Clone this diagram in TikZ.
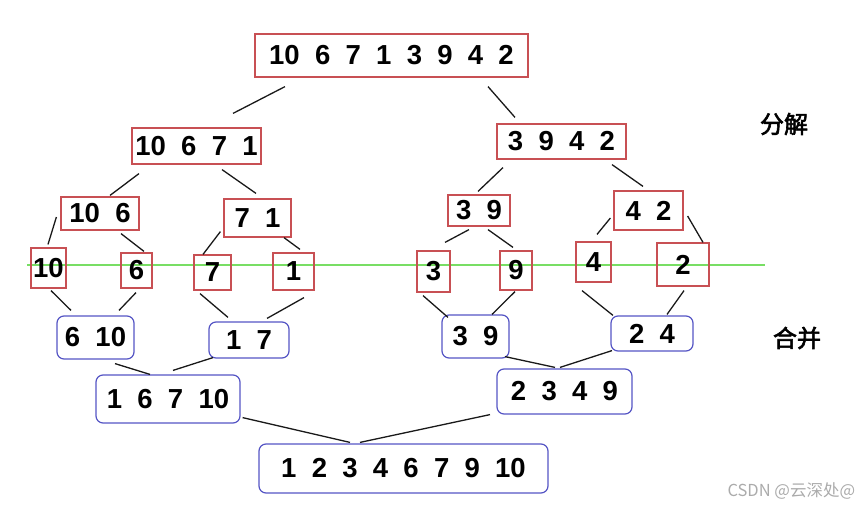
\documentclass[tikz,border=0pt]{standalone}
\usepackage{fontspec}
\setmainfont{Liberation Sans}[WordSpace=2]
\newfontfamily\cjk{Noto Sans CJK SC}[AutoFakeBold=2.5]
\usepackage{tikz}
\usetikzlibrary{positioning}
\definecolor{splitred}{RGB}{200,80,84}
\definecolor{mergeblue}{RGB}{84,84,196}
\definecolor{cutgreen}{RGB}{120,222,100}
\newcommand{\numfont}{\fontsize{27.5}{27.5}\selectfont\bfseries}

\begin{document}
\begin{tikzpicture}[
  x=1pt, y=-1pt,
  split/.style={draw=splitred, line width=1.2pt, inner sep=0pt, font=\numfont},
  merged/.style={draw=mergeblue, line width=1.2pt, rounded corners=7pt, inner sep=0pt, font=\numfont},
  boxsize/.style 2 args={minimum width=#1pt, minimum height=#2pt},
  link/.style={line width=1.3pt, black!90},
  stage/.style={font=\cjk\fontsize{24}{24}\selectfont\bfseries},
  watermark/.style={font=\cjk\fontsize{16.5}{16.5}\selectfont, text=black!33}
]
\useasboundingbox (0,0) rectangle (856,506);

% dividing line
\draw[cutgreen, line width=1.2pt] (27,265) -- (765,265);

% split
\node[split, boxsize={273}{43}] (s0) at (391.5,55.5) {10 6 7 1 3 9 4 2};
\node[split, boxsize={129}{36}] (a) at (196.5,146) {10 6 7 1};
\node[split, boxsize={129}{35}] (b) at (561.5,141.5) {3 9 4 2};
\node[split, boxsize={78}{33}] (aa) at (100,213.5) {10 6};
\node[split, boxsize={67}{38}] (ab) at (257.5,218) {7 1};
\node[split, boxsize={62}{31}] (ba) at (479,210.5) {3 9};
\node[split, boxsize={69}{39}] (bb) at (648.5,210.5) {4 2};
\node[split, boxsize={35}{40}] (l1) at (48.5,268) {10};
\node[split, boxsize={31}{35}] (l2) at (136.5,270.5) {6};
\node[split, boxsize={37}{35}] (l3) at (212.5,272.5) {7};
\node[split, boxsize={41}{37}] (l4) at (293.5,271.5) {1};
\node[split, boxsize={33}{41}] (l5) at (433.5,271.5) {3};
\node[split, boxsize={32}{39}] (l6) at (516,270.5) {9};
\node[split, boxsize={35}{40}] (l7) at (593.5,262) {4};
\node[split, boxsize={52}{43}] (l8) at (683,264.5) {2};

% merge
\node[merged, boxsize={77}{43}] (m1) at (95.5,337.5) {6 10};
\node[merged, boxsize={80}{36}] (m2) at (249,340) {1 7};
\node[merged, boxsize={67}{43}] (m3) at (475.5,336.5) {3 9};
\node[merged, boxsize={82}{35}] (m4) at (652,333.5) {2 4};
\node[merged, boxsize={144}{48}] (n1) at (168,399) {1 6 7 10};
\node[merged, boxsize={135}{45}] (n2) at (564.5,391.5) {2 3 4 9};
\node[merged, boxsize={289}{49}] (r) at (403.5,468.5) {1 2 3 4 6 7 9 10};

\node[stage] (fenjie) at (784,124) {分解};
\node[stage] (hebing) at (797,338) {合并};
\node[watermark, anchor=west] (csdn) at (724,491) {CSDN @云深处@};

% split links
\draw[link] ([shift={(-106.5,9)}]s0.south) -- ([shift={(36.5,-14)}]a.north);
\draw[link] ([shift={(96.5,9)}]s0.south) -- ([shift={(-46.5,-6)}]b.north);
\draw[link] ([shift={(-57.5,9)}]a.south) -- ([shift={(10,-1)}]aa.north);
\draw[link] ([shift={(25.5,5)}]a.south) -- ([shift={(-1.5,-5)}]ab.north);
\draw[link] ([shift={(-58.5,8)}]b.south) -- ([shift={(-1,-3)}]ba.north);
\draw[link] ([shift={(50.5,5)}]b.south) -- ([shift={(-5.5,-4)}]bb.north);
\draw[link] ([shift={(-4,3.5)}]aa.west) -- ([shift={(-0.5,-3)}]l1.north);
\draw[link] ([shift={(21,3)}]aa.south) -- ([shift={(7.5,-1)}]l2.north);
\draw[link] ([shift={(-3,-6)}]ab.south west) -- ([shift={(-9.5,0)}]l3.north);
\draw[link] ([shift={(26.5,0)}]ab.south) -- ([shift={(6.5,-3)}]l4.north);
\draw[link] ([shift={(-10,3)}]ba.south) -- ([shift={(11.5,-8)}]l5.north);
\draw[link] ([shift={(9,3)}]ba.south) -- ([shift={(-3,-3)}]l6.north);
\draw[link] ([shift={(-3,7.5)}]bb.west) -- ([shift={(3.5,-7)}]l7.north);
\draw[link] ([shift={(4,5.5)}]bb.east) -- ([shift={(20,0)}]l8.north);

% merge links
\draw[link] ([shift={(2.5,2)}]l1.south) -- ([shift={(-24.5,-5)}]m1.north);
\draw[link] ([shift={(-0.5,4)}]l2.south) -- ([shift={(23.5,-5)}]m1.north);
\draw[link] ([shift={(-12.5,3)}]l3.south) -- ([shift={(-21,-4)}]m2.north);
\draw[link] ([shift={(10.5,7)}]l4.south) -- ([shift={(18,-3)}]m2.north);
\draw[link] ([shift={(-10.5,3)}]l5.south) -- ([shift={(-27.5,3)}]m3.north);
\draw[link] ([shift={(-1,1)}]l6.south) -- ([shift={(16.5,0)}]m3.north);
\draw[link] ([shift={(-11.5,8)}]l7.south) -- ([shift={(-39,0)}]m4.north);
\draw[link] ([shift={(1,4)}]l8.south) -- ([shift={(15,-1)}]m4.north);
\draw[link] ([shift={(19.5,4)}]m1.south) -- ([shift={(-18,0)}]n1.north);
\draw[link] ([shift={(-36,-1)}]m2.south) -- ([shift={(5,-4)}]n1.north);
\draw[link] ([shift={(29.5,-2)}]m3.south) -- ([shift={(-9.5,-1)}]n2.north);
\draw[link] ([shift={(-40,-1)}]m4.south) -- ([shift={(-4.5,-1)}]n2.north);
\draw[link] ([shift={(2,-6)}]n1.south east) -- ([shift={(-53.5,-1)}]r.north);
\draw[link] ([shift={(-74.5,0)}]n2.south) -- ([shift={(-43.5,-1)}]r.north);

\end{tikzpicture}
\end{document}
